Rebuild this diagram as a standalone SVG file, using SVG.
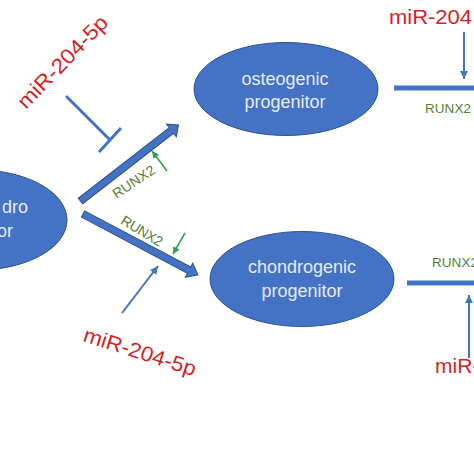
<svg xmlns="http://www.w3.org/2000/svg" width="474" height="474" viewBox="0 0 474 474">
<defs>
<style>
.node{fill:#4472c4;stroke:#2f528f;stroke-width:1}
.nt{font-family:"Liberation Sans",Arial,sans-serif;font-size:18px;fill:#e6ecf7;text-anchor:middle}
.mir{font-family:"Liberation Sans",Arial,sans-serif;font-size:21px;fill:#d41f26}
.runx{font-family:"Liberation Sans",Arial,sans-serif;font-size:13.5px;fill:#548235}
.thin{stroke:#4472c4;stroke-width:2;fill:none}
.bar{stroke:#4472c4;stroke-width:5;fill:none}
.inh{stroke:#4472c4;stroke-width:3;fill:none}
.green{stroke:#2ea34a;stroke-width:1.6;fill:none}
.big{fill:#4472c4;stroke:#2f528f;stroke-width:1}
</style>
<marker id="ab" viewBox="0 0 10 10" refX="10" refY="5" markerWidth="9" markerHeight="8" markerUnits="userSpaceOnUse" orient="auto">
<path d="M0,0 L10,5 L0,10 z" fill="#4472c4"/>
</marker>
<marker id="ag" viewBox="0 0 10 10" refX="10" refY="5" markerWidth="8" markerHeight="7" markerUnits="userSpaceOnUse" orient="auto">
<path d="M0,0 L10,5 L0,10 z" fill="#2ea34a"/>
</marker>
</defs>
<rect width="474" height="474" fill="#ffffff"/>

<g id="osteochondro-progenitor">
<ellipse class="node" cx="-22" cy="220" rx="89" ry="50"/>
<text class="nt" x="28" y="213" style="text-anchor:end">dro</text>
<text class="nt" x="13" y="237" style="text-anchor:end">or</text>
</g>

<g id="osteogenic-progenitor">
<ellipse class="node" cx="286" cy="89" rx="92" ry="46.5"/>
<text class="nt" x="285" y="85">osteogenic</text>
<text class="nt" x="285" y="108">progenitor</text>
</g>

<g id="chondrogenic-progenitor">
<ellipse class="node" cx="302" cy="279" rx="92" ry="47.5"/>
<text class="nt" x="302" y="273">chondrogenic</text>
<text class="nt" x="302" y="297">progenitor</text>
</g>

<g id="connectors">
<g transform="translate(80.5,201) rotate(-37.8)">
<polygon class="big" points="0,-3.5 115,-3.5 115,-8 124,0 115,8 115,3.5 0,3.5"/>
</g>
<g transform="translate(83,214) rotate(27.9)">
<polygon class="big" points="0,-3.5 120,-3.5 120,-8 130,0 120,8 120,3.5 0,3.5"/>
</g>
<line class="inh" x1="66" y1="96" x2="110" y2="140"/>
<line class="inh" x1="99" y1="152" x2="121" y2="128"/>
<line class="thin" x1="122" y1="313" x2="158" y2="266" marker-end="url(#ab)"/>
<line class="green" x1="167" y1="171" x2="152" y2="151" marker-end="url(#ag)"/>
<line class="green" x1="185" y1="233" x2="173" y2="254" marker-end="url(#ag)"/>
<line class="bar" x1="394" y1="88" x2="474" y2="88"/>
<line class="bar" x1="407" y1="283" x2="474" y2="283"/>
<line class="thin" x1="464" y1="32" x2="464" y2="79" marker-end="url(#ab)"/>
<line class="thin" x1="469" y1="358" x2="469" y2="295" marker-end="url(#ab)"/>
</g>

<g id="labels">
<text class="mir" transform="translate(26,110) rotate(-46)" textLength="120" lengthAdjust="spacingAndGlyphs">miR-204-5p</text>
<text class="mir" transform="translate(82,341) rotate(17.5)" textLength="117" lengthAdjust="spacingAndGlyphs">miR-204-5p</text>
<text class="mir" x="389" y="24" textLength="83" lengthAdjust="spacingAndGlyphs">miR-204</text>
<text class="mir" x="435" y="373">miR-</text>
<text class="runx" transform="translate(136.5,185.7) rotate(-34)" text-anchor="middle" style="font-size:14px" textLength="48">RUNX2</text>
<text class="runx" transform="translate(139.5,235.1) rotate(31)" text-anchor="middle" style="font-size:14px" textLength="46">RUNX2</text>
<text class="runx" x="425" y="113" textLength="46">RUNX2</text>
<text class="runx" x="432" y="267" textLength="46">RUNX2</text>
</g>
</svg>
